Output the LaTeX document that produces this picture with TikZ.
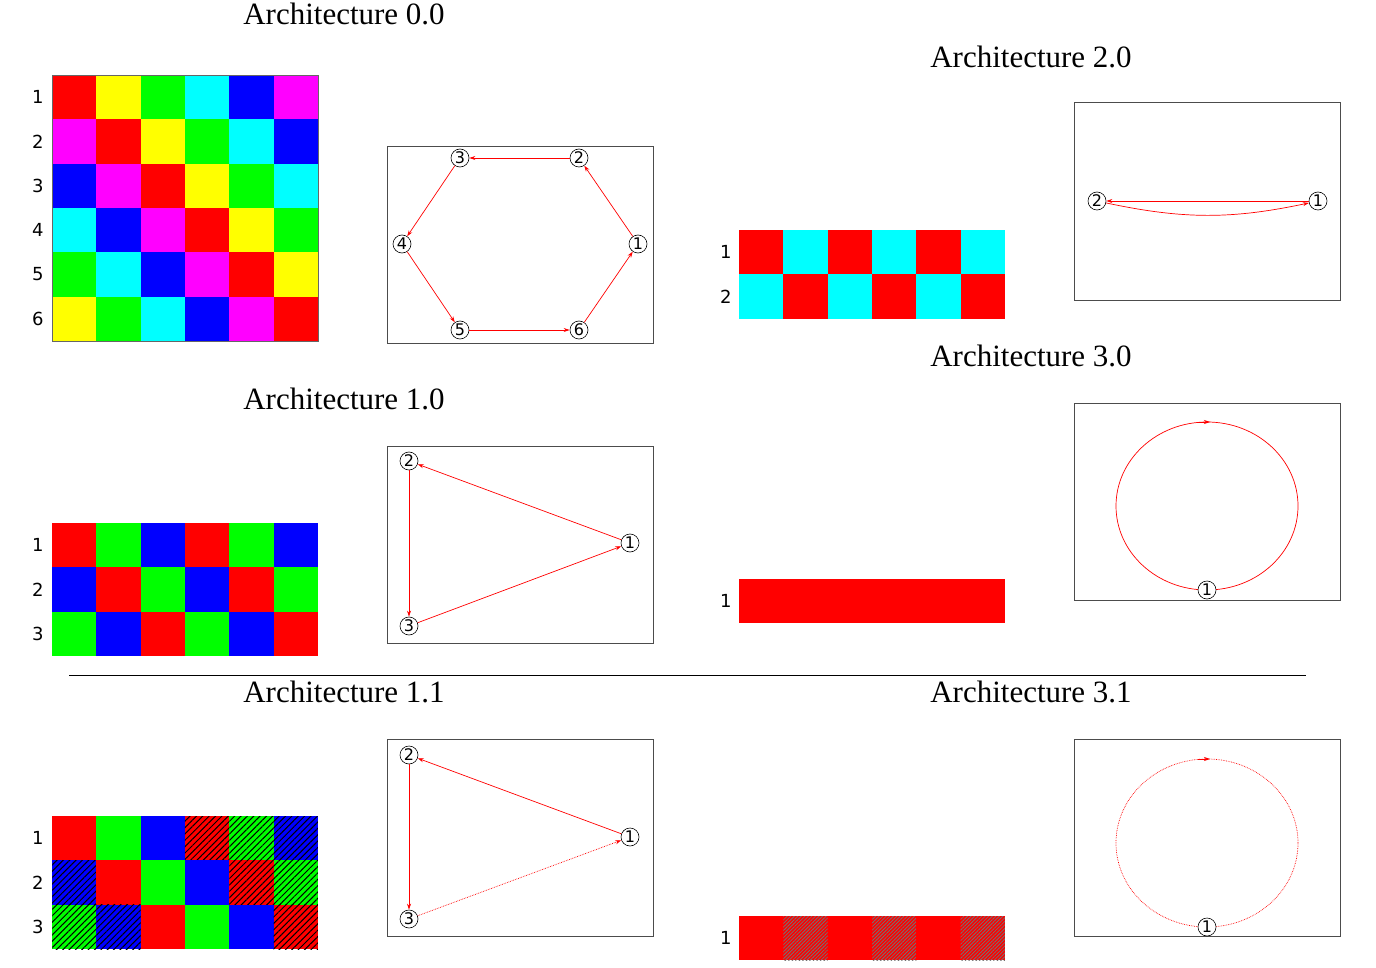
\documentclass[tikz,border=0pt]{standalone}
\usepackage{fontspec}
\setmainfont{Liberation Serif}
\newfontfamily\axfont{DejaVu Sans}
\usetikzlibrary{patterns.meta,arrows.meta}
\definecolor{cR}{RGB}{255,0,0}\definecolor{cG}{RGB}{0,255,0}\definecolor{cB}{RGB}{0,0,255}
\definecolor{cC}{RGB}{0,255,255}\definecolor{cY}{RGB}{255,255,0}\definecolor{cM}{RGB}{255,0,255}
\tikzset{
 ttl/.style={font=\fontsize{31}{31}\selectfont,anchor=center},
 axl/.style={font=\axfont\fontsize{18}{18}\selectfont,anchor=east},
 gbox/.style={draw=black!70,line width=0.8pt},
 gn/.style={circle,draw=black,fill=white,line width=0.6pt,inner sep=0pt,minimum size=18pt,font=\axfont\fontsize{16}{16}\selectfont},
 ed/.style={draw=red,line width=0.7pt,-{Stealth[length=6pt,width=4pt]}},
 hat/.style={pattern={Lines[angle=45,distance=4.5pt,line width=1pt]},pattern color=black},
 fhat/.style={pattern={Lines[angle=45,distance=2.5pt,line width=0.8pt]},pattern color=black!55}
}
\newcommand{\gridrow}[4]{% x0, ytop, list of color/hatch
 \foreach \c/\h [count=\i from 0] in {#3}{
  \fill[\c] ({#1+\i*44.33},{#2}) rectangle ({#1+(\i+1)*44.33},{#2+#4});
  \ifnum\h=1 \fill[hat] ({#1+\i*44.33},{#2}) rectangle ({#1+(\i+1)*44.33},{#2+#4});\fi
  \ifnum\h=2 \fill[fhat] ({#1+\i*44.33},{#2}) rectangle ({#1+(\i+1)*44.33},{#2+#4});\fi
 }}
\begin{document}
\begin{tikzpicture}[x=1pt,y=-1pt]
\useasboundingbox (0,0) rectangle (1376,968);
% titles
\node[ttl] (t00) at (344,14) {Architecture 0.0};
\node[ttl] (t10) at (344,399) {Architecture 1.0};
\node[ttl] (t11) at (344,692) {Architecture 1.1};
\node[ttl] (t20) at (1031,57) {Architecture 2.0};
\node[ttl] (t30) at (1031,356) {Architecture 3.0};
\node[ttl] (t31) at (1031,692) {Architecture 3.1};
\draw[line width=1pt] (69,675) -- (1306,675);
% grid 0.0
\gridrow{52}{75}{cR/0,cY/0,cG/0,cC/0,cB/0,cM/0}{44.33}
\gridrow{52}{119.33}{cM/0,cR/0,cY/0,cG/0,cC/0,cB/0}{44.33}
\gridrow{52}{163.67}{cB/0,cM/0,cR/0,cY/0,cG/0,cC/0}{44.33}
\gridrow{52}{208}{cC/0,cB/0,cM/0,cR/0,cY/0,cG/0}{44.33}
\gridrow{52}{252.33}{cG/0,cC/0,cB/0,cM/0,cR/0,cY/0}{44.33}
\gridrow{52}{296.67}{cY/0,cG/0,cC/0,cB/0,cM/0,cR/0}{44.33}
\draw[black!60,line width=0.6pt] (52,75) rectangle (318,341);
\foreach \r in {1,...,6}{\node[axl] (a0\r) at (47,{75+(\r-0.5)*44.33}) {\r};}
% grid 1.0
\gridrow{52}{523}{cR/0,cG/0,cB/0,cR/0,cG/0,cB/0}{44.33}
\gridrow{52}{567.33}{cB/0,cR/0,cG/0,cB/0,cR/0,cG/0}{44.33}
\gridrow{52}{611.67}{cG/0,cB/0,cR/0,cG/0,cB/0,cR/0}{44.33}
\foreach \r in {1,2,3}{\node[axl] (a1\r) at (47,{523+(\r-0.5)*44.33}) {\r};}
% grid 1.1
\gridrow{52}{816}{cR/0,cG/0,cB/0,cR/1,cG/1,cB/1}{44.33}
\gridrow{52}{860.33}{cB/1,cR/0,cG/0,cB/0,cR/1,cG/1}{44.33}
\gridrow{52}{904.67}{cG/1,cB/1,cR/0,cG/0,cB/0,cR/1}{44.33}
\foreach \r in {1,2,3}{\node[axl] (a2\r) at (47,{816+(\r-0.5)*44.33}) {\r};}
% grid 2.0
\gridrow{739}{230}{cR/0,cC/0,cR/0,cC/0,cR/0,cC/0}{44.33}
\gridrow{739}{274.33}{cC/0,cR/0,cC/0,cR/0,cC/0,cR/0}{44.33}
\foreach \r in {1,2}{\node[axl] (a3\r) at (735,{230+(\r-0.5)*44.33}) {\r};}
% grid 3.0
\gridrow{739}{579}{cR/0,cR/0,cR/0,cR/0,cR/0,cR/0}{44.33}
\node[axl] (a41) at (735,601) {1};
% grid 3.1
\gridrow{739}{916}{cR/0,cR/2,cR/0,cR/2,cR/0,cR/2}{44.33}
\node[axl] (a51) at (735,938) {1};
% graph 0.0
\draw[gbox] (387,146) rectangle (653,343);
\node[gn] (h1) at (638,244) {1};
\node[gn] (h2) at (579,158) {2};
\node[gn] (h3) at (460,158) {3};
\node[gn] (h4) at (402,244) {4};
\node[gn] (h5) at (460,330) {5};
\node[gn] (h6) at (579,330) {6};
\draw[ed] (h1)--(h2); \draw[ed] (h2)--(h3); \draw[ed] (h3)--(h4);
\draw[ed] (h4)--(h5); \draw[ed] (h5)--(h6); \draw[ed] (h6)--(h1);
% graph 1.0
\draw[gbox] (387,446) rectangle (653,643);
\node[gn] (p1) at (630,543) {1};
\node[gn] (p2) at (409,461) {2};
\node[gn] (p3) at (409,626) {3};
\draw[ed] (p1)--(p2); \draw[ed] (p2)--(p3); \draw[ed] (p3)--(p1);
% graph 1.1
\draw[gbox] (387,739) rectangle (653,936);
\node[gn] (q1) at (630,837) {1};
\node[gn] (q2) at (409,755) {2};
\node[gn] (q3) at (409,919) {3};
\draw[ed] (q1)--(q2); \draw[ed] (q2)--(q3); \draw[ed,densely dotted] (q3)--(q1);
% graph 2.0
\draw[gbox] (1074,102) rectangle (1340,300);
\node[gn] (r1) at (1318,201) {1};
\node[gn] (r2) at (1097,201) {2};
\draw[ed] (r1)--(r2);
\draw[ed] (r2) to[bend right=12] (r1);
% graph 3.0
\draw[gbox] (1074,403) rectangle (1340,600);
\draw[red,line width=0.7pt] (1207,506) ellipse [x radius=91, y radius=84];
\coordinate (s0a) at (1198,422); \coordinate (s0b) at (1210,422);
\draw[ed] (s0a)--(s0b);
\node[gn] (s1) at (1207,590) {1};
% graph 3.1
\draw[gbox] (1074,739) rectangle (1340,936);
\draw[red,line width=0.7pt,densely dotted] (1207,843) ellipse [x radius=91, y radius=84];
\coordinate (u0a) at (1198,759); \coordinate (u0b) at (1210,759);
\draw[ed] (u0a)--(u0b);
\node[gn] (u1) at (1207,927) {1};
\end{tikzpicture}
\end{document}
